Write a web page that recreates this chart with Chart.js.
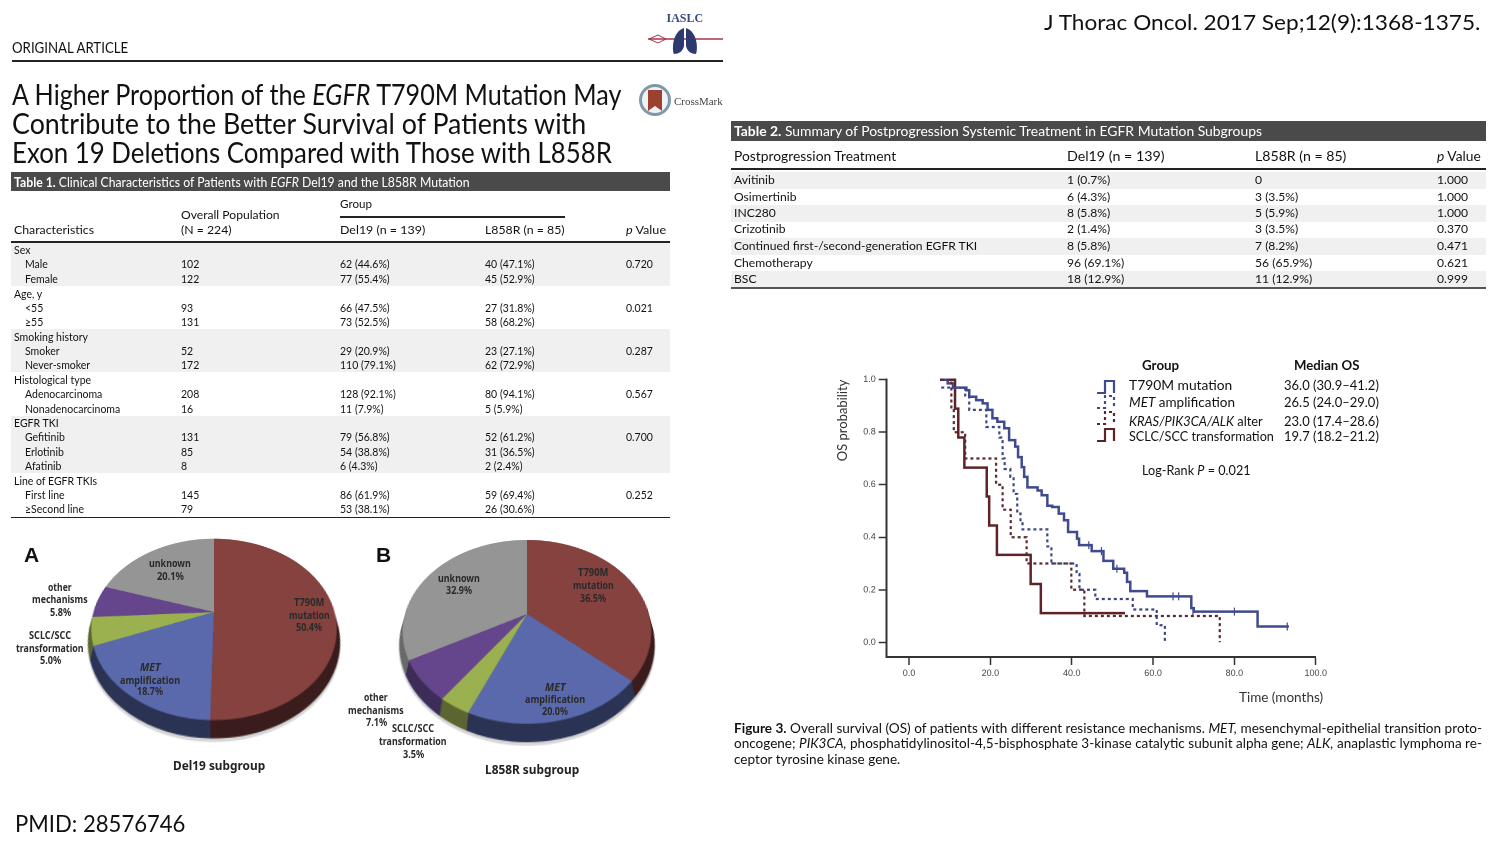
<!DOCTYPE html>
<html>
<head>
<meta charset="utf-8">
<script src="https://cdn.jsdelivr.net/npm/chart.js@4/dist/chart.umd.min.js"></script>
<style>
html, body { margin: 0; background: #fff; }
#page { position: relative; width: 1500px; height: 843px; overflow: hidden; font-family: Lato, sans-serif; color: #111; filter: blur(0.35px); }
#page span { position: absolute; white-space: nowrap; transform-origin: 0 50%; line-height: 1; }
#page canvas { position: absolute; }
.box { position: absolute; }
svg { position: absolute; overflow: visible; }
</style>
</head>
<body>
<div id="page"></div>
<script>
// survival curves
const t790mTime = [7.9, 9.5, 10.8, 14.1, 14.8, 16.5, 18.1, 19.3, 20.5, 21.7, 23.4, 24.6, 26.1, 26.8, 27.7, 28.3, 29.1, 31.6, 32.6, 34, 35.2, 36.8, 38.1, 39.1, 41.3, 41.8, 44.9, 47.8, 50.2, 52.9, 53.6, 54.4, 58.5, 69.4, 70, 85.7, 93.4];
const t790mSurv = [1, 0.986, 0.97, 0.96, 0.935, 0.922, 0.91, 0.885, 0.853, 0.84, 0.815, 0.77, 0.745, 0.705, 0.667, 0.63, 0.59, 0.578, 0.56, 0.52, 0.515, 0.49, 0.465, 0.42, 0.395, 0.37, 0.347, 0.31, 0.28, 0.265, 0.23, 0.195, 0.175, 0.13, 0.117, 0.06, 0.06];
const t790mCensorTime = [44.2, 47.3, 51.1, 64.9, 66.3, 69.8, 80, 93];
const t790mCensorSurv = [0.37, 0.347, 0.28, 0.175, 0.175, 0.117, 0.117, 0.06];
const metTime = [7.9, 13.8, 14.8, 19, 22.2, 23, 23.5, 24.9, 25.7, 26.6, 27.4, 27.9, 34, 35, 41.2, 41.9, 45.8, 55, 60.9, 62.9];
const metSurv = [0.97, 0.94, 0.885, 0.82, 0.78, 0.7, 0.66, 0.63, 0.565, 0.49, 0.46, 0.43, 0.365, 0.3, 0.26, 0.2, 0.165, 0.125, 0.065, 0];
const krasTime = [7.9, 10.4, 11, 13.8, 21.4, 23, 25, 28.9, 39.9, 43.1, 76.4];
const krasSurv = [1, 0.89, 0.8, 0.7, 0.6, 0.505, 0.4, 0.3, 0.2, 0.1, 0];
const sclcTime = [7.6, 11.3, 12.1, 13.6, 19.1, 19.7, 21.6, 29.9, 32.4, 53.1];
const sclcSurv = [1, 0.89, 0.78, 0.665, 0.555, 0.445, 0.333, 0.222, 0.111, 0.111];
const xTickValues = [0, 20, 40, 60, 80, 100];
const yTickValues = [0, 0.2, 0.4, 0.6, 0.8, 1];

// pies, clockwise from 12 o'clock
const pieNames = ['T790M mutation', 'MET amplification', 'SCLC/SCC transformation', 'other mechanisms', 'unknown'];
const del19Shares = [50.4, 18.7, 5.0, 5.8, 20.1];
const l858rShares = [36.5, 20.0, 3.5, 7.1, 32.9];
const pieColors = ['#85423f', '#5a69ab', '#9bb04f', '#65468c', '#959595'];
const pieWalls = ['#3a1d1c', '#2c3455', '#5b6630', '#3d2d58', '#6a6a6a'];

// table 1
const t1Rows = ['Sex', 'Male', 'Female', 'Age, y', '&lt;55', '≥55', 'Smoking history', 'Smoker', 'Never-smoker', 'Histological type', 'Adenocarcinoma', 'Nonadenocarcinoma', 'EGFR TKI', 'Gefitinib', 'Erlotinib', 'Afatinib', 'Line of EGFR TKIs', 'First line', '≥Second line'];
const t1RowY = [250, 264, 279, 294, 308, 322, 337, 351, 365, 380, 394, 409, 423, 437, 452, 466, 481, 495, 509];
const t1Overall = ['', '102', '122', '', '93', '131', '', '52', '172', '', '208', '16', '', '131', '85', '8', '', '145', '79'];
const t1Del19 = ['', '62 (44.6%)', '77 (55.4%)', '', '66 (47.5%)', '73 (52.5%)', '', '29 (20.9%)', '110 (79.1%)', '', '128 (92.1%)', '11 (7.9%)', '', '79 (56.8%)', '54 (38.8%)', '6 (4.3%)', '', '86 (61.9%)', '53 (38.1%)'];
const t1L858r = ['', '40 (47.1%)', '45 (52.9%)', '', '27 (31.8%)', '58 (68.2%)', '', '23 (27.1%)', '62 (72.9%)', '', '80 (94.1%)', '5 (5.9%)', '', '52 (61.2%)', '31 (36.5%)', '2 (2.4%)', '', '59 (69.4%)', '26 (30.6%)'];
const t1P = ['', '0.720', '', '', '0.021', '', '', '0.287', '', '', '0.567', '', '', '0.700', '', '', '', '0.252', ''];

// table 2
const t2Rows = ['Avitinib', 'Osimertinib', 'INC280', 'Crizotinib', 'Continued first-/second-generation EGFR TKI', 'Chemotherapy', 'BSC'];
const t2RowY = [180, 197, 213, 229, 246, 263, 279];
const t2Del19 = ['1 (0.7%)', '6 (4.3%)', '8 (5.8%)', '2 (1.4%)', '8 (5.8%)', '96 (69.1%)', '18 (12.9%)'];
const t2L858r = ['0', '3 (3.5%)', '5 (5.9%)', '3 (3.5%)', '7 (8.2%)', '56 (65.9%)', '11 (12.9%)'];
const t2P = ['1.000', '1.000', '1.000', '0.370', '0.471', '0.621', '0.999'];

const page = document.getElementById('page');

// w = target width in px, the text gets squeezed to fit it
function put(x, y, html, size, w, extra) {
  const el = document.createElement('span');
  el.innerHTML = html;
  el.style.fontSize = size + 'px';
  Object.assign(el.style, extra || {});
  page.appendChild(el);
  const natural = el.offsetWidth;
  const sx = w ? w / natural : 1;
  el.style.left = x + 'px';
  el.style.top = (y - el.offsetHeight / 2) + 'px';
  el.style.transform = 'scaleX(' + sx + ')';
  return el;
}
// same but x is the centre of the text
function putMid(x, y, html, size, w, extra) {
  return put(x - w / 2, y, html, size, w, extra);
}
function box(x, y, w, h, color) {
  const el = document.createElement('div');
  el.className = 'box';
  el.style.cssText = 'left:' + x + 'px;top:' + y + 'px;width:' + w + 'px;height:' + h + 'px;background:' + color;
  page.appendChild(el);
}
function svgAt(x, y, markup) {
  page.insertAdjacentHTML('beforeend', '<svg style="left:' + x + 'px;top:' + y + 'px" width="10" height="10">' + markup + '</svg>');
}

// slide header
put(1044, 22, 'J Thorac Oncol. 2017 Sep;12(9):1368-1375.', 22, 436);
put(15, 823, 'PMID: 28576746', 23, 170);
put(12, 48, 'ORIGINAL ARTICLE', 14.5, 116);
box(12, 60, 711, 2, '#222');
put(12, 93.5, 'A Higher Proportion of the <i>EGFR</i> T790M Mutation May', 28, 609);
put(12, 122.5, 'Contribute to the Better Survival of Patients with', 28, 574);
put(12, 151.5, 'Exon 19 Deletions Compared with Those with L858R', 28, 600);

// logos
putMid(685, 18, 'IASLC', 12, 37, { fontFamily: 'Liberation Serif', fontWeight: 700, color: '#3c4a80' });
svgAt(648, 26, '<path d="M0 13H75" stroke="#a8324a" stroke-width="1.5"/><path d="M1 13l9-4 8 4-8 4z" fill="none" stroke="#a8324a"/><path d="M36 2C24 6 24 24 26 28c5 0 9-3 10-8zM38 2c12 4 12 22 10 26-5 0-9-3-10-8z" fill="#2c3a70"/>');
svgAt(639, 84, '<circle cx="16" cy="16" r="14.5" fill="#eef2f4" stroke="#7f97a8" stroke-width="3"/><path d="M9 6h14v21l-7-5-7 5z" fill="#9c4030"/>');
put(674, 102, 'CrossMark', 10.5, 49, { fontFamily: 'Liberation Serif', color: '#444' });

// table 1
box(11, 172, 659, 19, '#4a4a4a');
put(14, 183, '<b>Table 1.</b> Clinical Characteristics of Patients with <i>EGFR</i> Del19 and the L858R Mutation', 12.5, 456, { color: '#fff' });
[[243, 43], [329, 43], [416, 57]].forEach(b => box(11, b[0], 659, b[1], '#f0f0f0'));
put(340, 204, 'Group', 12, 32);
box(340, 216, 225, 1.5, '#222');
put(181, 215, 'Overall Population', 12, 99);
put(181, 230, '(N = 224)', 12, 51);
put(14, 230, 'Characteristics', 12, 80);
put(340, 230, 'Del19 (n = 139)', 12, 85);
put(485, 230, 'L858R (n = 85)', 12, 80);
put(626, 230, '<i>p</i> Value', 12, 40);
box(11, 240.5, 659, 2, '#222');
box(11, 516.5, 659, 1.5, '#222');
const t1Squeeze = 'scaleX(0.955)';
t1Rows.forEach((name, i) => {
  const y = t1RowY[i] - 1;
  const head = t1Overall[i] === '';
  put(head ? 14 : 25, y, name, 11, 0).style.transform = t1Squeeze;
  [[181, t1Overall], [340, t1Del19], [485, t1L858r], [626, t1P]].forEach(c => {
    if (c[1][i]) put(c[0], y, c[1][i], 11, 0).style.transform = t1Squeeze;
  });
});

// table 2
box(731, 121, 755, 20, '#4a4a4a');
put(734, 132, '<b>Table 2.</b> Summary of Postprogression Systemic Treatment in EGFR Mutation Subgroups', 13.5, 528, { color: '#fff' });
put(734, 157, 'Postprogression Treatment', 13.5, 162);
put(1067, 157, 'Del19 (n = 139)', 13.5, 97);
put(1255, 157, 'L858R (n = 85)', 13.5, 91);
put(1437, 157, '<i>p</i> Value', 13.5, 44);
box(731, 168, 755, 2, '#222');
[172, 205, 238, 271].forEach(y => box(731, y, 755, 16.5, '#f0f0f0'));
box(731, 287, 755, 1.5, '#555');
t2Rows.forEach((name, i) => {
  const y = t2RowY[i];
  put(734, y, name, 12, 0).style.transform = 'scaleX(1.01)';
  [[1067, t2Del19], [1255, t2L858r], [1437, t2P]].forEach(c => {
    put(c[0], y, c[1][i], 12, 0).style.transform = 'scaleX(1.01)';
  });
});

// figure 3 text
put(734, 728, '<b>Figure 3.</b> Overall survival (OS) of patients with different resistance mechanisms. <i>MET,</i> mesenchymal-epithelial transition proto-', 13, 748);
put(734, 743, 'oncogene; <i>PIK3CA,</i> phosphatidylinositol-4,5-bisphosphate 3-kinase catalytic subunit alpha gene; <i>ALK,</i> anaplastic lymphoma re-', 13, 748);
put(734, 759, 'ceptor tyrosine kinase gene.', 13, 166);

// km legend
const legendRows = [
  ['T790M mutation', '36.0 (30.9–41.2)', 385, '#3f4a8f', ''],
  ['<i>MET</i> amplification', '26.5 (24.0–29.0)', 402, '#3f4a8f', '3 3'],
  ['<i>KRAS/PIK3CA/ALK</i> alter', '23.0 (17.4–28.6)', 421, '#5f2327', '3 3'],
  ['SCLC/SCC transformation', '19.7 (18.2–21.2)', 436, '#5f2327', '']
];
const legendWidths = [103, 106, 134, 145];
const legendGlyphY = [381, 396, 412, 429];
put(1142, 365, '<b>Group</b>', 13, 37);
put(1294, 365, '<b>Median OS</b>', 13, 65);
legendRows.forEach((r, i) => {
  put(1129, r[2], r[0], 13, legendWidths[i]);
  put(1284, r[2], r[1], 13, 95);
  svgAt(1097, legendGlyphY[i], '<path d="M0 12H8V0H17V12" fill="none" stroke="' + r[3] + '" stroke-width="2.2" stroke-dasharray="' + r[4] + '"/>');
});
put(1142, 470, 'Log-Rank <i>P</i> = 0.021', 13, 109);
put(1239, 698, 'Time (months)', 13.5, 84, { color: '#333' });

// km chart
function points(xs, ys) {
  return xs.map((x, i) => ({ x: x, y: ys[i] }));
}
function curve(label, xs, ys, color, dash, width) {
  return { label: label, data: points(xs, ys), stepped: true, showLine: true, borderColor: color, borderWidth: width, borderDash: dash, pointRadius: 0, clip: false, fill: false };
}
function fixAxis(scale, values) {
  scale.ticks = values.map(v => ({ value: v }));
}
const kmCanvas = document.createElement('canvas');
kmCanvas.width = 500;
kmCanvas.height = 320;
kmCanvas.style.cssText = 'left:830px;top:370px;width:500px;height:320px';
page.appendChild(kmCanvas);
new Chart(kmCanvas, {
  type: 'scatter',
  data: {
    datasets: [
      curve('MET amplification', metTime, metSurv, '#3d4785', [3, 3], 2.2),
      curve('KRAS/PIK3CA/ALK alter', krasTime, krasSurv, '#5c2a2e', [3, 3], 2.2),
      curve('T790M mutation', t790mTime, t790mSurv, '#3f4a8f', [], 2.5),
      curve('SCLC/SCC transformation', sclcTime, sclcSurv, '#5f2327', [], 2.5),
      { label: 'censored', data: points(t790mCensorTime, t790mCensorSurv), pointStyle: 'line', rotation: 90, pointRadius: 4, pointBorderColor: '#3f4a8f', pointBorderWidth: 1.2, showLine: false, clip: false }
    ]
  },
  options: {
    responsive: false,
    animation: false,
    devicePixelRatio: 2,
    layout: { padding: { top: 9.7, right: 11.3, left: 5, bottom: 0 } },
    plugins: { legend: { display: false }, tooltip: { enabled: false } },
    scales: {
      x: {
        type: 'linear', min: -5.5, max: 100,
        afterBuildTicks: s => fixAxis(s, xTickValues),
        afterFit: s => { s.height = 33; },
        border: { color: '#333', width: 2 },
        grid: { display: true, drawOnChartArea: false, tickLength: 8, tickColor: '#333', tickWidth: 1.5 },
        ticks: { color: '#444', maxRotation: 0, padding: 3, font: { family: 'Liberation Sans', size: 9 }, callback: v => v.toFixed(1) }
      },
      y: {
        type: 'linear', min: -0.056, max: 1,
        afterBuildTicks: s => fixAxis(s, yTickValues),
        afterFit: s => { s.width = 51.7; },
        border: { color: '#333', width: 2 },
        grid: { display: true, drawOnChartArea: false, tickLength: 8, tickColor: '#333', tickWidth: 1.5 },
        ticks: { color: '#444', padding: 3, font: { family: 'Liberation Sans', size: 9 }, callback: v => v.toFixed(1) },
        title: { display: true, text: 'OS probability', align: 'end', color: '#333', font: { family: 'Lato', size: 13 }, padding: { top: 0, bottom: 0 } }
      }
    }
  }
});

// extruded wall for the tilted pies, drawn from the chart's own arcs
const pieWallPlugin = {
  id: 'pieWall',
  beforeDatasetsDraw(chart) {
    const ctx = chart.ctx;
    const arcs = chart.getDatasetMeta(0).data;
    const depth = 16;
    for (let d = depth + 3; d >= 1; d--) {
      ctx.save();
      ctx.translate(0, d);
      arcs.forEach((arc, i) => {
        const saved = arc.options;
        arc.options = Object.assign({}, saved, { backgroundColor: d > depth ? '#d8d8d8' : pieWalls[i] });
        arc.draw(ctx);
        arc.options = saved;
      });
      ctx.restore();
    }
  }
};
function makePie(cx, cy, radius, shares) {
  const size = 320;
  const c = document.createElement('canvas');
  c.style.cssText = 'left:' + (cx - size / 2) + 'px;top:' + (cy - size / 2) + 'px;width:' + size + 'px;height:' + size + 'px;transform:perspective(433px) rotateX(43.5deg)';
  c.width = size;
  c.height = size;
  page.appendChild(c);
  new Chart(c, {
    type: 'pie',
    data: { labels: pieNames, datasets: [{ data: shares, backgroundColor: pieColors, borderWidth: 0 }] },
    options: {
      responsive: false,
      animation: false,
      devicePixelRatio: 2,
      layout: { padding: size / 2 - radius },
      plugins: { legend: { display: false }, tooltip: { enabled: false } }
    },
    plugins: [pieWallPlugin]
  });
}
makePie(214, 612, 120.5, del19Shares);
makePie(527, 614, 122, l858rShares);

// pie labels, above the canvases
const pieFont = { fontFamily: 'Noto Sans', fontWeight: 700, color: '#2a2a2a' };
function pieLabel(x, ys, lines, widths) {
  lines.forEach((s, i) => putMid(x, ys[i], s, 10, widths[i], pieFont));
}
put(24, 554, 'A', 21, 15, { fontFamily: 'Liberation Sans', fontWeight: 700, color: '#111' });
pieLabel(170, [563, 576], ['unknown', '20.1%'], [42, 27]);
pieLabel(60, [587, 599, 612], ['other', 'mechanisms', '5.8%'], [24, 56, 21]);
pieLabel(50, [635, 648, 660], ['SCLC/SCC', 'transformation', '5.0%'], [42, 68, 21]);
pieLabel(309, [602, 615, 627], ['T790M', 'mutation', '50.4%'], [30, 41, 26]);
pieLabel(150, [667, 680, 691], ['<i>MET</i>', 'amplification', '18.7%'], [21, 60, 26]);
putMid(219, 765, 'Del19 subgroup', 13, 92, { fontFamily: 'Noto Sans', fontWeight: 700, color: '#222' });
put(376, 554, 'B', 21, 15, { fontFamily: 'Liberation Sans', fontWeight: 700, color: '#111' });
pieLabel(459, [578, 590], ['unknown', '32.9%'], [42, 26]);
pieLabel(593, [572, 585, 598], ['T790M', 'mutation', '36.5%'], [30, 41, 26]);
pieLabel(555, [687, 699, 711], ['<i>MET</i>', 'amplification', '20.0%'], [21, 60, 26]);
pieLabel(376, [697, 710, 722], ['other', 'mechanisms', '7.1%'], [24, 56, 21]);
pieLabel(413, [728, 741, 754], ['SCLC/SCC', 'transformation', '3.5%'], [42, 68, 21]);
putMid(532, 769, 'L858R subgroup', 13, 94, { fontFamily: 'Noto Sans', fontWeight: 700, color: '#222' });
</script>
</body>
</html>
